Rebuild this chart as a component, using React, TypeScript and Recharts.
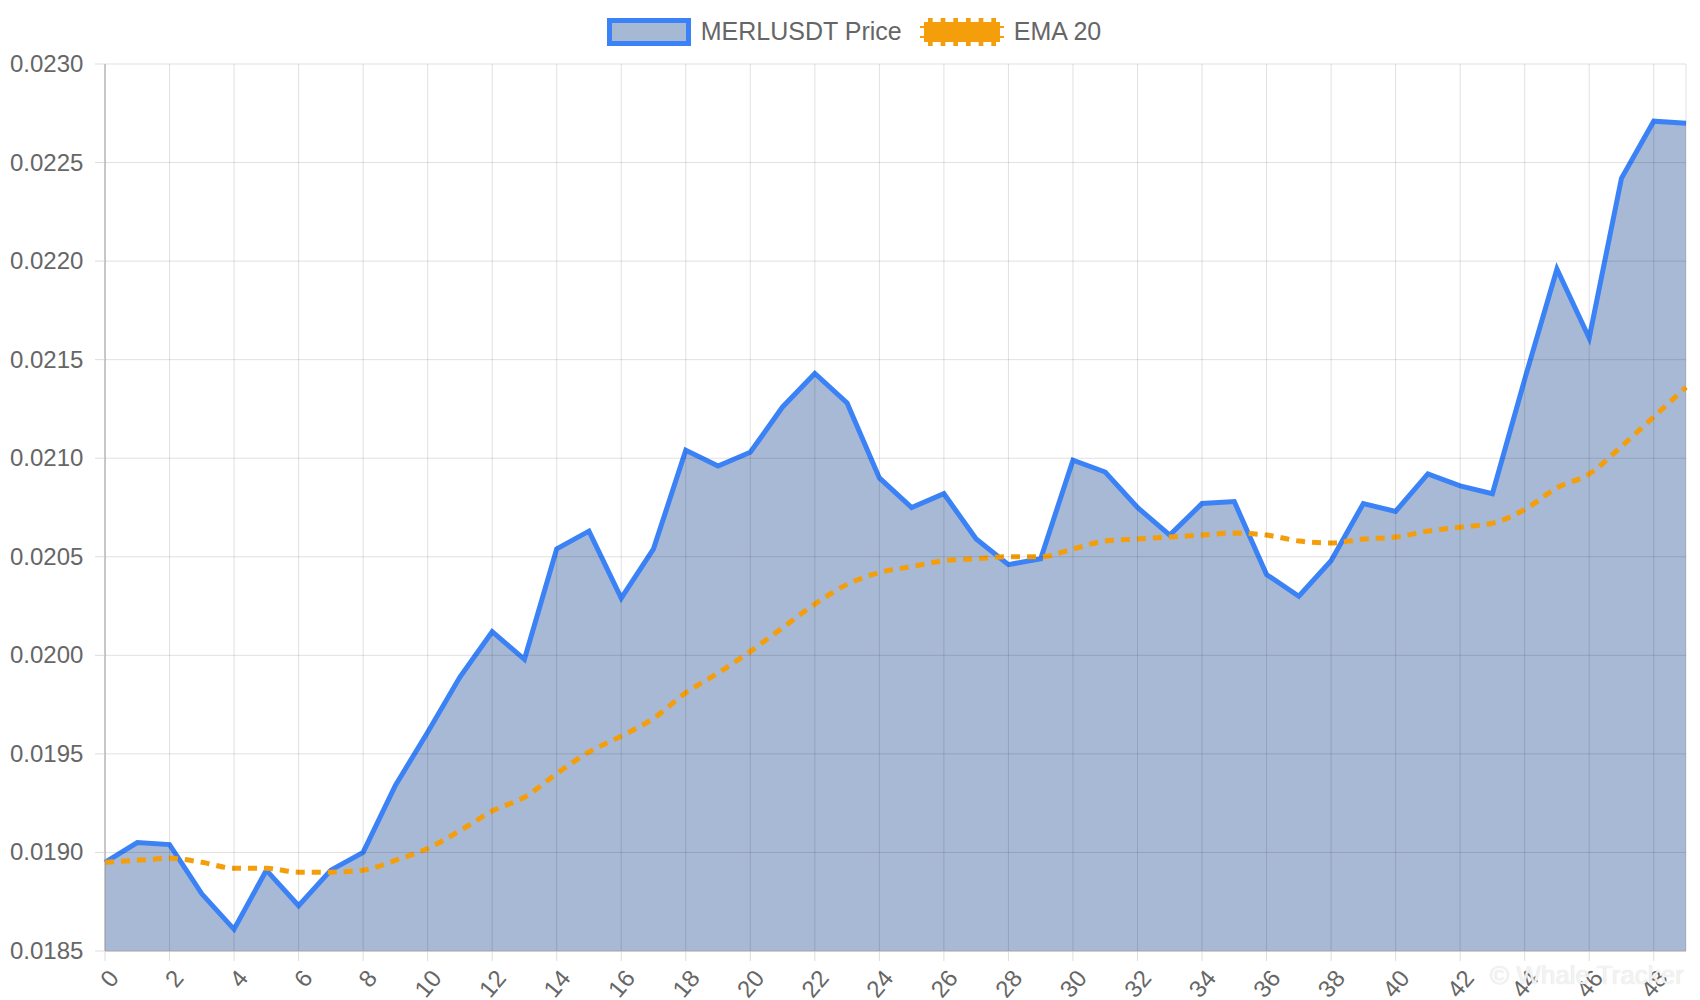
import { Area, CartesianGrid, ComposedChart, Line, XAxis, YAxis } from 'recharts'

const indexes = Array.from({ length: 50 }, (_, i) => i)
const priceValues = [
  0.01895, 0.01905, 0.01904, 0.01879, 0.01861, 0.01891, 0.01873, 0.01891, 0.019, 0.01934,
  0.01961, 0.01989, 0.02012, 0.01998, 0.02054, 0.02063, 0.02029, 0.02054, 0.02104, 0.02096,
  0.02103, 0.02126, 0.02143, 0.02128, 0.0209, 0.02075, 0.02082, 0.02059, 0.02046, 0.02049,
  0.02099, 0.02093, 0.02075, 0.02061, 0.02077, 0.02078, 0.02041, 0.0203, 0.02048, 0.02077,
  0.02073, 0.02092, 0.02086, 0.02082, 0.0214, 0.02196, 0.02161, 0.02242, 0.02271, 0.0227,
]
const emaValues = [
  0.01895, 0.01896, 0.01897, 0.01895, 0.01892, 0.01892, 0.0189, 0.0189, 0.01891, 0.01896,
  0.01902, 0.01911, 0.01921, 0.01928, 0.0194, 0.01951, 0.01959, 0.01968, 0.01981, 0.01991,
  0.02002, 0.02014, 0.02026, 0.02036, 0.02042, 0.02045, 0.02048, 0.02049, 0.0205, 0.0205,
  0.02054, 0.02058, 0.02059, 0.0206, 0.02061, 0.02062, 0.02061, 0.02058, 0.02057, 0.02059,
  0.0206, 0.02063, 0.02065, 0.02067, 0.02074, 0.02085, 0.02092, 0.02106, 0.02121, 0.02136,
]
const xTicks = indexes.filter((i) => i % 2 === 0)
const yTicks = [0.0185, 0.019, 0.0195, 0.02, 0.0205, 0.021, 0.0215, 0.022, 0.0225, 0.023]

const data = indexes.map((i) => ({ idx: i, price: priceValues[i], ema: emaValues[i] }))

const font = '"Liberation Sans", Arial, sans-serif'

function XTick({ x, y, payload }: any) {
  return (
    <text x={x + 6} y={y + 8} textAnchor="end" fill="#666" fontSize={24} fontFamily={font} transform={`rotate(-50 ${x + 6} ${y + 8})`} dy={12}>
      {payload.value}
    </text>
  )
}

function YTick({ y, payload }: any) {
  return (
    <text x={10} y={y} dy={8} textAnchor="start" fill="#666" fontSize={24} fontFamily={font}>
      {payload.value.toFixed(4)}
    </text>
  )
}

function Legend() {
  return (
    <div style={{ position: 'absolute', top: 17, left: 0, width: 1700, display: 'flex', justifyContent: 'center', alignItems: 'center', fontFamily: font, fontSize: 25, color: '#666' }}>
      <span style={{ width: 84, height: 28, background: '#a6b9d4', border: '5px solid #3b82f6', boxSizing: 'border-box', marginRight: 10, marginLeft: 8 }} />
      <span style={{ marginRight: 18 }}>MERLUSDT Price</span>
      <span style={{ width: 84, height: 28, background: '#f59e0b', border: '4px dashed #fff', boxSizing: 'border-box', marginRight: 10 }} />
      <span>EMA 20</span>
    </div>
  )
}

export default function App() {
  return (
    <div style={{ position: 'absolute', left: 0, top: 0, width: 1700, height: 1000, background: '#fff' }}>
      <Legend />
      <ComposedChart width={1700} height={1000} data={data} margin={{ top: 64, right: 14, bottom: 0, left: 0 }}>
        <XAxis dataKey="idx" type="number" domain={[0, 49]} ticks={xTicks} interval={0} height={49} tick={<XTick />} tickLine={{ stroke: '#ddd' }} tickSize={10} axisLine={{ stroke: '#bbb' }} />
        <YAxis type="number" domain={[0.0185, 0.023]} ticks={yTicks} interval={0} width={105} tick={<YTick />} tickLine={{ stroke: '#ddd' }} tickSize={10} axisLine={{ stroke: '#aaa' }} />
        <Area type="linear" dataKey="price" stroke="#3b82f6" strokeWidth={5} fill="#5f7fb0" fillOpacity={0.55} isAnimationActive={false} dot={false} activeDot={false} />
        <CartesianGrid stroke="rgba(0,0,0,0.12)" horizontal vertical zIndex={500} />
        <Line type="monotone" dataKey="ema" stroke="#f59e0b" strokeWidth={5} strokeDasharray="9 7" dot={false} activeDot={false} isAnimationActive={false} />
      </ComposedChart>
      <div style={{ position: 'absolute', left: 1490, top: 960, fontFamily: font, fontSize: 26, color: 'rgba(255,255,255,0.75)', textShadow: '0 0 1px #ccc' }}>
        © Whale Tracker
      </div>
    </div>
  )
}
